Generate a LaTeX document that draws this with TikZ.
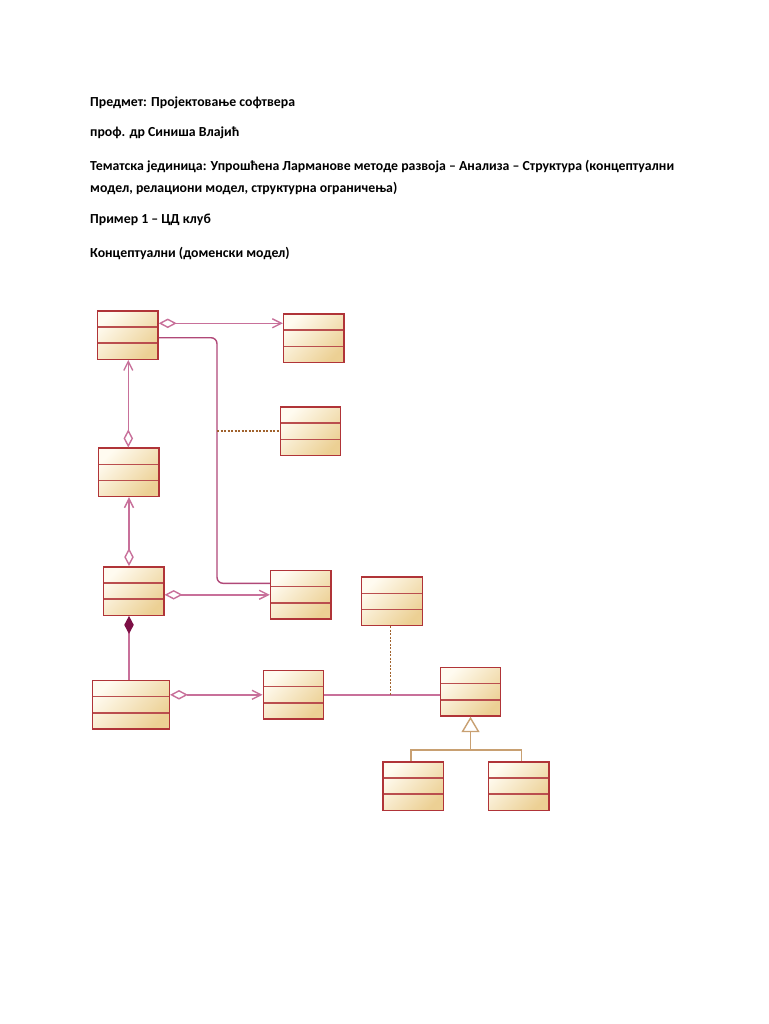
\documentclass[tikz,border=0pt]{standalone}
\usepackage{fontspec}
\setmainfont{Carlito}
\usetikzlibrary{arrows.meta,calc}
\definecolor{clsborder}{RGB}{176,52,56}
\definecolor{clsdiv}{RGB}{186,78,78}
\definecolor{clslight}{RGB}{255,251,240}
\definecolor{clsdark}{RGB}{236,208,148}
\definecolor{assoc}{RGB}{200,112,154}
\definecolor{assocdark}{RGB}{176,72,120}
\definecolor{depbrown}{RGB}{160,98,45}
\definecolor{genbrown}{RGB}{200,160,114}
\definecolor{compfill}{RGB}{125,15,69}
\tikzset{
  cls/.style={draw=clsborder, line width=1.4pt, minimum width=60.5pt, minimum height=48.4pt, inner sep=0pt,
    top color=clslight, bottom color=clsdark, shading angle=45,
    path picture={
      \draw[clsdiv, line width=1.4pt]
        ($(path picture bounding box.north west)!1/3!(path picture bounding box.south west)$) --
        ($(path picture bounding box.north east)!1/3!(path picture bounding box.south east)$)
        ($(path picture bounding box.north west)!2/3!(path picture bounding box.south west)$) --
        ($(path picture bounding box.north east)!2/3!(path picture bounding box.south east)$);
    }},
  txt/.style={anchor=base west, inner sep=0pt, font=\fontsize{13.8}{16}\selectfont\bfseries},
  agg/.style={draw=assoc, line width=1.4pt, {Diamond[open,length=18pt,width=9.5pt]}-{Straight Barb[length=9pt,width=9pt]}},
  nav/.style={draw=assoc, line width=1.4pt},
  comp/.style={draw=assoc, line width=1.4pt, {Diamond[color=compfill,fill=compfill,length=18pt,width=9.5pt]}-},
  dep/.style={draw=depbrown, line width=1.6pt, dash pattern=on 2.2pt off 1.3pt},
  gen/.style={draw=genbrown, line width=1.4pt},
  genhead/.style={draw=genbrown, line width=1.4pt, -{Triangle[open,length=15.5pt,width=18pt]}}
}
\begin{document}
\begin{tikzpicture}[x=1pt,y=-1pt]
\useasboundingbox[fill=white] (0,0) rectangle (768,1024);

\node[txt] (t1) at (90,107) {Предмет: Пројектовање софтвера};
\node[txt] (t2) at (90,137) {проф. др Синиша Влајић};
\node[txt] (t3) at (90,171) {Тематска јединица: Упрошћена Ларманове методе развоја – Анализа – Структура (концептуални};
\node[txt] (t4) at (90,193) {модел, релациони модел, структурна ограничења)};
\node[txt] (t5) at (90,224) {Пример 1 – ЦД клуб};
\node[txt] (t6) at (90,258) {Концептуални (доменски модел)};

\node[cls] (A) at (127.8,335) {};
\node[cls] (B) at (313.8,338.2) {};
\node[cls] (C) at (310.5,431.2) {};
\node[cls] (D) at (128.8,472.3) {};
\node[cls] (E) at (133.7,591) {};
\node[cls] (F) at (300.7,594.8) {};
\node[cls, minimum width=77pt] (G) at (130.8,704.8) {};
\node[cls] (H) at (293.5,694.8) {};
\node[cls] (I) at (392,601.3) {};
\node[cls] (J) at (470.5,691.8) {};
\node[cls] (K) at (413.2,786) {};
\node[cls] (L) at (518.8,786) {};

% A -> B aggregation
\coordinate (ab) at ($(A.east)+(0,-11.7)$);
\draw[agg] (ab) -- (ab -| B.west);
% A -- F association with rounded corners
\coordinate (af1) at ($(A.east)+(0,2.7)$);
\coordinate (afx) at (217,0);
\coordinate (af2) at ($(F.west)+(0,-11.5)$);
\draw[nav, draw=assocdark, rounded corners=6pt] (af1) -- (af1 -| afx) -- (af2 -| afx) -- (af2);
% association class C
\coordinate (cm) at (C.west -| afx);
\draw[dep] (cm) -- (C.west);
% D -> A
\draw[agg] (D.north -| 128.3,0) -- (A.south -| 128.3,0);
% E -> D
\draw[agg] (E.north -| 129,0) -- (D.south -| 129,0);
% E -> F
\draw[agg] (F.west -| E.east) -- (F.west);
% E composition G
\draw[comp] (E.south -| 129,0) -- (G.north -| 129,0);
% G -> H
\draw[agg] (H.west -| G.east) -- (H.west);
% H -- J
\coordinate (hj) at (H.east);
\draw[nav] (hj) -- (hj -| J.west);
% I dotted to H-J
\draw[dep] (I.south -| 390.3,0) -- (hj -| 390.3,0);
% generalization
\coordinate (gy) at (0,750);
\draw[gen] (K.north -| 411,0) -- (gy -| 411,0) -- (gy -| 521.7,0) -- (L.north -| 521.7,0);
\draw[genhead] (gy -| J.south) -- (J.south);
\end{tikzpicture}
\end{document}
